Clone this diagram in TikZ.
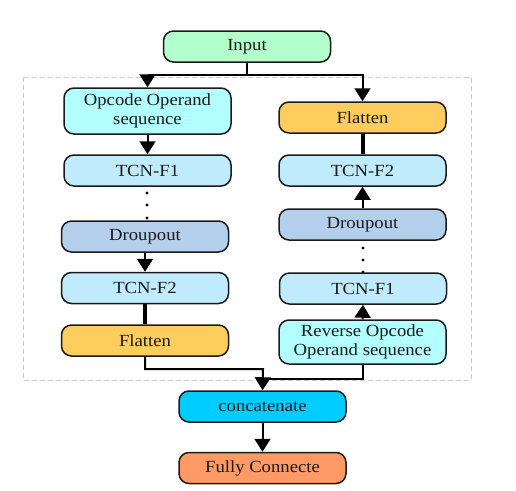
\documentclass[tikz,border=0pt]{standalone}
\usepackage{fontspec}
\setmainfont{Liberation Serif}
\newfontfamily\diafont[FakeStretch=1.1]{Liberation Serif}
\usetikzlibrary{arrows.meta}
\definecolor{cin}{HTML}{B3FFCC}
\definecolor{cop}{HTML}{B3FFFF}
\definecolor{ctcn}{HTML}{BFEBFC}
\definecolor{cdrop}{HTML}{B4CFEB}
\definecolor{cflat}{HTML}{FFCC5E}
\definecolor{ccat}{HTML}{00CCFF}
\definecolor{cfc}{HTML}{FF9966}
\definecolor{edge}{HTML}{1A1A1A}
\tikzset{
  blk/.style={draw=edge, line width=1.5pt, rounded corners=10pt, minimum width=167pt,
    minimum height=31pt, inner sep=0pt, align=center, text=edge,
    font=\diafont\fontsize{17}{18.5}\selectfont},
  conn/.style={draw=black, line width=2pt},
  arr/.style={conn, -{Triangle[width=16pt,length=13pt]}},
  thick conn/.style={draw=black, line width=4pt},
  dotm/.style={circle, fill=black, inner sep=0pt, minimum size=3.4pt}
}
\begin{document}
\begin{tikzpicture}[x=1pt,y=-1pt]
\useasboundingbox (0,0) rectangle (516,490);
\draw[draw=black!20, line width=0.8pt, dash pattern=on 5pt off 3pt] (23,77) rectangle (471,380);

\node[blk, fill=cin] (in) at (247,46.5) {Input};

\node[blk, fill=cop, minimum height=46pt] (op) at (147.5,111) {Opcode Operand\\sequence};
\node[blk, fill=ctcn] (lt1) at (147.5,170.5) {TCN-F1};
\node[blk, fill=cdrop] (ldr) at (145,236.5) {Droupout};
\node[blk, fill=ctcn] (lt2) at (145,288) {TCN-F2};
\node[blk, fill=cflat] (lf) at (145,340.5) {Flatten};

\node[blk, fill=cflat] (rf) at (362.5,117.5) {Flatten};
\node[blk, fill=ctcn] (rt2) at (362.5,170.5) {TCN-F2};
\node[blk, fill=cdrop] (rdr) at (362.5,224.5) {Droupout};
\node[blk, fill=ctcn] (rt1) at (363,288.5) {TCN-F1};
\node[blk, fill=cop, minimum height=44pt] (rev) at (362.5,342) {Reverse Opcode\\Operand sequence};

\node[blk, fill=ccat] (cat) at (262.5,406.5) {concatenate};
\node[blk, fill=cfc] (fc) at (262.5,468) {Fully Connecte};

\coordinate (s) at (247,75);
\draw[conn] (in.south) -- (s);
\draw[arr] (s) -| (op.north);
\draw[arr] (s) -| (rf.north);

\draw[arr] (op.south) -- (lt1.north);
\node[dotm] (ld1) at (147,193) {};
\node[dotm] (ld2) at (147,205) {};
\node[dotm] (ld3) at (147,218) {};
\draw[arr] (ldr.south) -- (lt2.north);
\draw[thick conn] (lt2.south) -- (lf.north);

\draw[arr] (rev.north) -- (rt1.south);
\node[dotm] (rd1) at (363,248) {};
\node[dotm] (rd2) at (363,260) {};
\node[dotm] (rd3) at (363,272) {};
\draw[arr] (rdr.north) -- (rt2.south);
\draw[thick conn] (rf.south) -- (rt2.north);

\coordinate (j1) at (263,369);
\coordinate (j2) at (263,379);
\draw[conn] (rev.south) |- (j2);
\draw[arr] (lf.south) |- (j1) -- (cat.north);
\draw[arr] (cat.south) -- (fc.north);
\end{tikzpicture}
\end{document}
